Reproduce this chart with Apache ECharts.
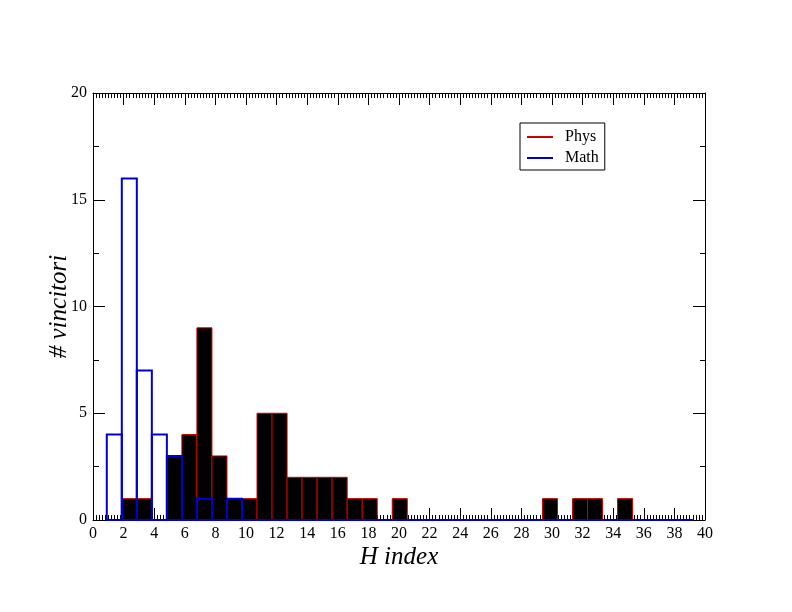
<!DOCTYPE html>
<html>
<head>
<meta charset="utf-8">
<script src="https://cdn.jsdelivr.net/npm/echarts@6/dist/echarts.min.js"></script>
<style>
  html, body { margin: 0; padding: 0; background: #fff; }
</style>
</head>
<body>
<div id="myChart" style="width: 792px; height: 612px;"></div>
<script>
// bin index (H index) and number of winners in each bin
let hIndex = [1,2,3,4,5,6,7,8,9,10,11,12,13,14,15,16,17,18,19,20,
              21,22,23,24,25,26,27,28,29,30,31,32,33,34,35,36,37,38,39]
let phys   = [0,1,1,0,3,4,9,3,1,1,5,5,2,2,2,2,1,1,0,1,
              0,0,0,0,0,0,0,0,0,1,0,1,1,0,1,0,0,0,0]
let math   = [4,16,7,4,3,0,1,0,1,0,0,0,0,0,0,0,0,0,0,0,
              0,0,0,0,0,0,0,0,0,0,0,0,0,0,0,0,0,0,0]
let xTicks = [0,2,4,6,8,10,12,14,16,18,20,22,24,26,28,30,32,34,36,38,40]
let yTicks = [0,5,10,15,20]

// histogram bins as drawn in the original plot
let binStart = 0.9
let binWidth = 0.982

let font = 'Liberation Serif'

function histData(counts) {
    return hIndex.map((h, i) => [h, counts[i]])
}

function makeRender(fill, stroke, width) {
    return function (params, api) {
        let h = api.value(0)
        let x0 = binStart + (h - 1) * binWidth
        let p0 = api.coord([x0, 0])
        let p1 = api.coord([x0 + binWidth, api.value(1)])
        return {
            type: 'rect',
            shape: {x: p0[0], y: p1[1], width: p1[0] - p0[0], height: p0[1] - p1[1]},
            style: {fill: fill, stroke: stroke, lineWidth: width}
        }
    }
}

function axisBase(extra) {
    return Object.assign({
        type: 'value',
        axisLine: {show: true, onZero: false, lineStyle: {color: '#000', width: 1}},
        axisTick: {show: true, inside: true, length: 12, lineStyle: {color: '#000'}},
        splitLine: {show: false}
    }, extra)
}

let myChart = echarts.init(document.getElementById('myChart'))
myChart.setOption({
    animation: false,
    backgroundColor: '#fff',
    grid: {left: 93, right: 87, top: 93, bottom: 92},
    legend: {
        left: 520, top: 123,
        orient: 'vertical',
        borderColor: '#000', borderWidth: 1,
        padding: [4, 6, 2, 7],
        itemGap: 1,
        itemWidth: 26, itemHeight: 2,
        textStyle: {fontFamily: font, fontSize: 16, color: '#000', lineHeight: 20, padding: [0, 0, 0, 7]},
        data: [
            {name: 'Phys', icon: 'rect', itemStyle: {color: '#cc0000', borderWidth: 0}},
            {name: 'Math', icon: 'rect', itemStyle: {color: '#0000cc', borderWidth: 0}}
        ]
    },
    xAxis: [
        axisBase({
            position: 'bottom',
            min: 0, max: 40, interval: 2,
            minorTick: {show: true, splitNumber: 10, length: 5, lineStyle: {color: '#000'}},
            axisLabel: {
                fontFamily: font, fontSize: 16, color: '#000', margin: 6,
                formatter: v => xTicks.indexOf(v) >= 0 ? String(v) : ''
            },
            name: 'H index', nameLocation: 'middle', nameGap: 25, nameMoveOverlap: false,
            nameTextStyle: {fontFamily: font, fontSize: 25, fontStyle: 'italic', color: '#000'}
        }),
        axisBase({
            position: 'top',
            min: 0, max: 40, interval: 2,
            minorTick: {show: true, splitNumber: 10, length: 5, lineStyle: {color: '#000'}},
            axisLabel: {show: false}
        })
    ],
    yAxis: [
        axisBase({
            position: 'left',
            min: 0, max: 20, interval: 5,
            minorTick: {show: true, splitNumber: 2, length: 6, lineStyle: {color: '#000'}},
            axisLabel: {
                fontFamily: font, fontSize: 16, color: '#000', margin: 6,
                formatter: v => yTicks.indexOf(v) >= 0 ? String(v) : ''
            },
            name: '# vincitori', nameLocation: 'middle', nameGap: 21, nameRotate: 90, nameMoveOverlap: false,
            nameTextStyle: {fontFamily: font, fontSize: 25, fontStyle: 'italic', color: '#000'}
        }),
        axisBase({
            position: 'right',
            min: 0, max: 20, interval: 5,
            minorTick: {show: true, splitNumber: 2, length: 5, lineStyle: {color: '#000'}},
            axisLabel: {show: false}
        })
    ],
    series: [
        {
            name: 'Phys',
            type: 'custom',
            renderItem: makeRender('#000', '#cc0000', 1),
            itemStyle: {color: '#cc0000'},
            data: histData(phys),
            z: 3
        },
        {
            name: 'Math',
            type: 'custom',
            renderItem: makeRender('none', '#0000cc', 2),
            itemStyle: {color: '#0000cc'},
            data: histData(math),
            z: 4
        }
    ]
})
</script>
</body>
</html>
